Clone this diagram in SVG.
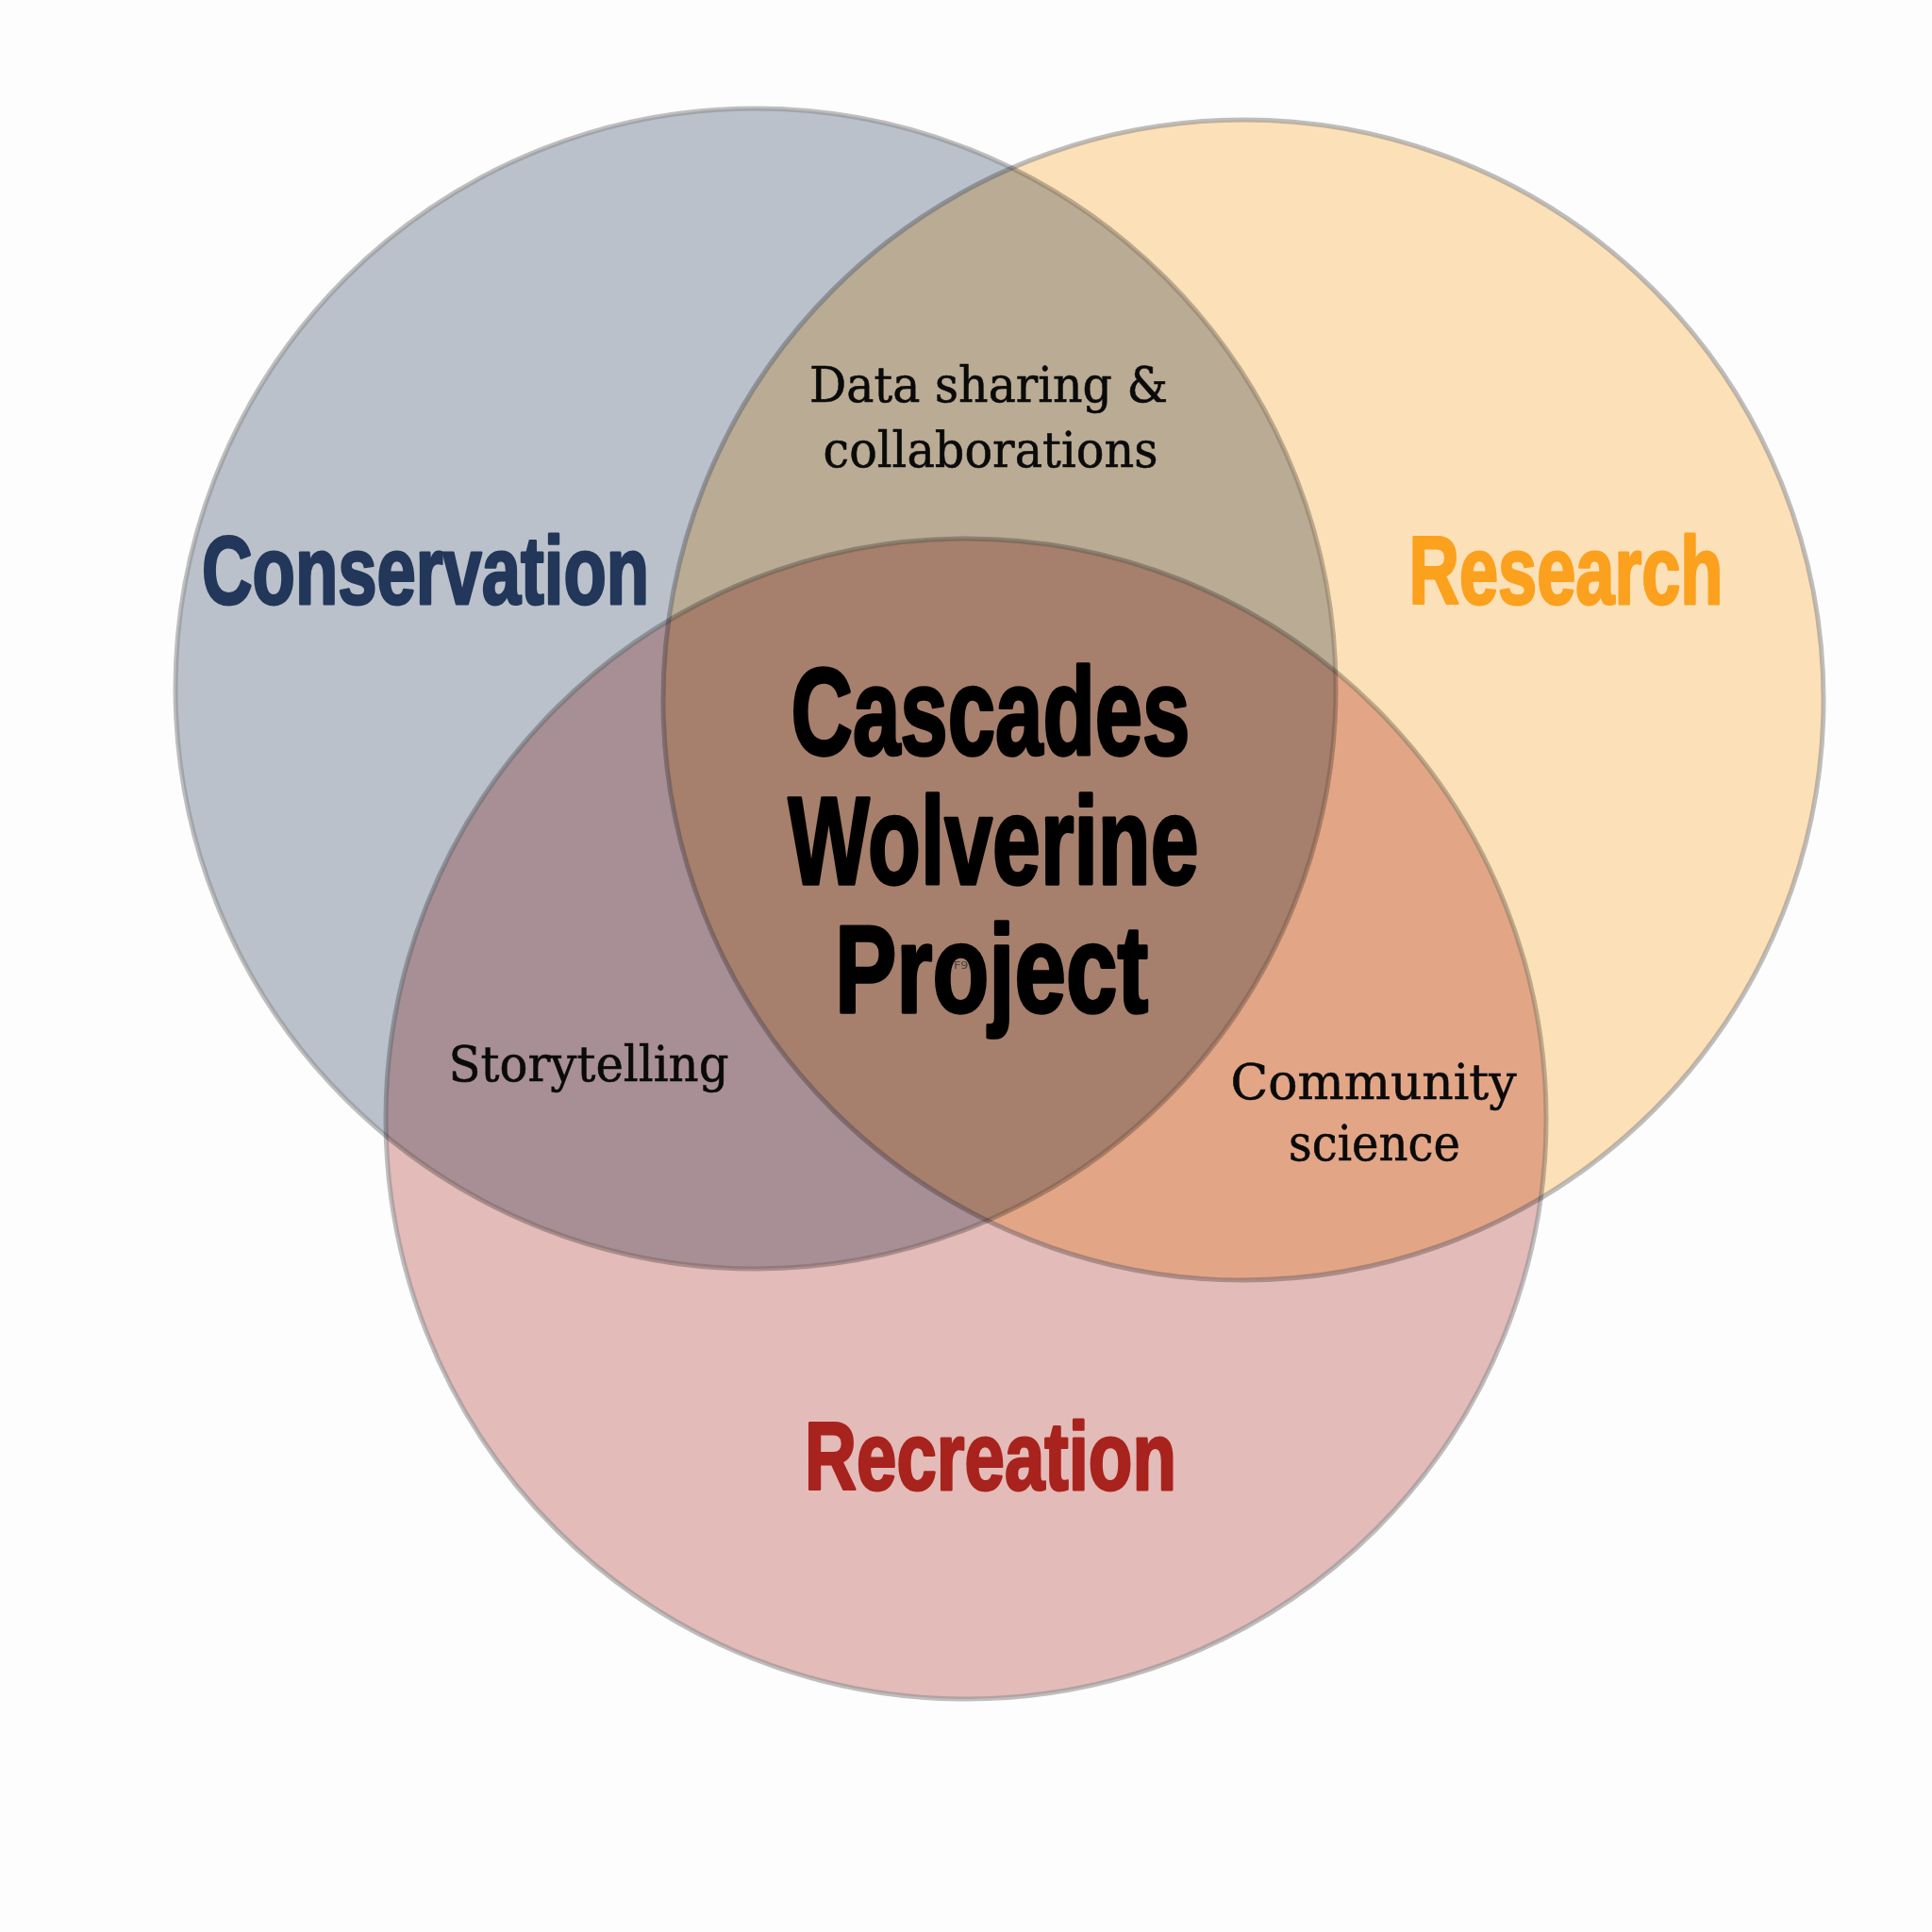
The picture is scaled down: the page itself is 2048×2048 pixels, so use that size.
<svg xmlns="http://www.w3.org/2000/svg" width="2048" height="2048" viewBox="0 0 2048 2048">
  <style>
    .set { stroke: #8c8c8c; stroke-opacity: 0.55; stroke-width: 5; fill-opacity: 0.3; mix-blend-mode: multiply; }
    .title { font-family: "Liberation Sans Narrow", "Liberation Sans", "DejaVu Sans Condensed", sans-serif; font-weight: bold; text-anchor: middle; stroke-linejoin: round; }
    .setlabel { font-size: 102px; stroke-width: 3; }
    .center { font-size: 131px; fill: #000000; stroke: #000000; stroke-width: 3.5; }
    .body { font-family: "DejaVu Serif", "Liberation Serif", serif; font-size: 53px; fill: #0a0a0a; text-anchor: middle; stroke: #0a0a0a; stroke-width: 0.6; }
    .tiny { font-family: "DejaVu Sans", sans-serif; font-size: 11px; fill: #444444; }
  </style>
  <rect x="0" y="0" width="2048" height="2048" fill="#fdfdfd"/>

  <g id="sets">
    <g id="conservation">
      <circle class="set" cx="801" cy="730" r="615" fill="#22375a"/>
    </g>
    <g id="research">
      <circle class="set" cx="1318" cy="742" r="615" fill="#fb9e1b"/>
    </g>
    <g id="recreation">
      <circle class="set" cx="1024" cy="1186" r="615" fill="#a8251f"/>
    </g>
  </g>

  <g id="connectors"/>

  <g id="labels">
    <g id="conservation-label">
      <text class="title setlabel" x="451" y="640" fill="#22375a" stroke="#22375a" textLength="474" lengthAdjust="spacingAndGlyphs">Conservation</text>
    </g>
    <g id="research-label">
      <text class="title setlabel" x="1660" y="640" fill="#fba11e" stroke="#fba11e" textLength="333" lengthAdjust="spacingAndGlyphs">Research</text>
    </g>
    <g id="recreation-label">
      <text class="title setlabel" x="1050" y="1579" fill="#a8231d" stroke="#a8231d" textLength="394" lengthAdjust="spacingAndGlyphs">Recreation</text>
    </g>
    <g id="data-sharing">
      <text class="body" x="1048" y="426" textLength="380" lengthAdjust="spacingAndGlyphs">Data sharing &amp;</text>
      <text class="body" x="1050" y="495" textLength="355" lengthAdjust="spacingAndGlyphs">collaborations</text>
    </g>
    <g id="storytelling">
      <text class="body" x="624" y="1146" textLength="297" lengthAdjust="spacingAndGlyphs">Storytelling</text>
    </g>
    <g id="community-science">
      <text class="body" x="1456" y="1165" textLength="303" lengthAdjust="spacingAndGlyphs">Community</text>
      <text class="body" x="1457" y="1230" textLength="182" lengthAdjust="spacingAndGlyphs">science</text>
    </g>
    <g id="project">
      <text class="tiny" x="1011" y="1027" textLength="33" lengthAdjust="spacingAndGlyphs">F9BC</text>
      <text class="title center" x="1050" y="800" textLength="423" lengthAdjust="spacingAndGlyphs">Cascades</text>
      <text class="title center" x="1053" y="937" textLength="435" lengthAdjust="spacingAndGlyphs">Wolverine</text>
      <text class="title center" x="1051" y="1073" textLength="332" lengthAdjust="spacingAndGlyphs">Project</text>
    </g>
  </g>
</svg>
